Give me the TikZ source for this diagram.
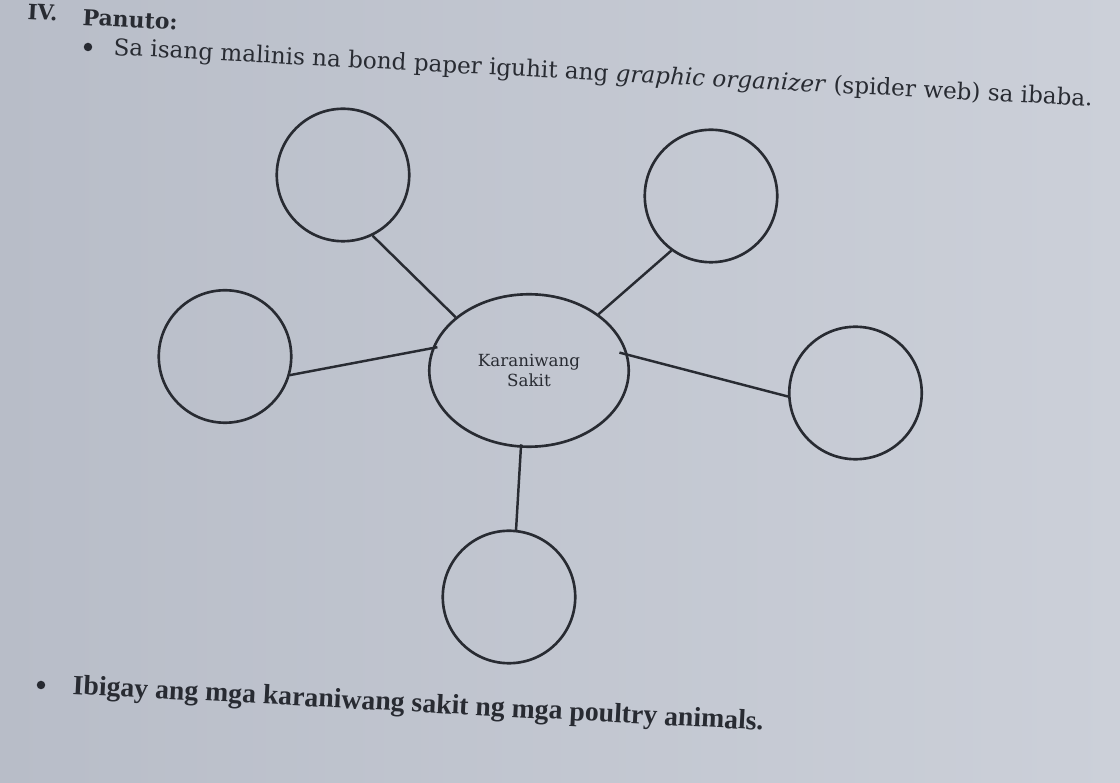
\documentclass[tikz,border=0pt]{standalone}
\usepackage{fontspec}
\setmainfont{DejaVu Serif}
\newfontfamily\ibigayfont{Liberation Serif}
\usetikzlibrary{shapes}
\definecolor{paperleft}{RGB}{184,189,200}
\definecolor{paperright}{RGB}{204,208,217}
\definecolor{ink}{RGB}{40,43,50}

\begin{document}
\begin{tikzpicture}[x=0.02cm, y=-0.02cm,
        bubble/.style={circle, draw=ink, line width=1.5pt, minimum size=2.65cm, inner sep=0pt},
        hub/.style={ellipse, draw=ink, line width=1.5pt, minimum width=3.99cm, minimum height=3.05cm, inner sep=0pt, align=center, text=ink, font=\fontsize{9.5}{11}\selectfont},
        leg/.style={draw=ink, line width=1.4pt},
        dot/.style={circle, fill=ink, inner sep=0pt, minimum size=0.17cm},
        textline/.style={anchor=base west, rotate=-3, inner sep=0pt, text=ink}]
        \shade[left color=paperleft, right color=paperright] (0,0) rectangle (1120,783);
        \node[textline, font=\bfseries\fontsize{12}{14}\selectfont] (num) at (27,19) {IV.};
        \node[textline, font=\bfseries\fontsize{12.5}{14}\selectfont] (panuto) at (82,25) {Panuto:};
        \node[dot] (b1) at (88,47) {};
        \node[textline, font=\fontsize{13.15}{15}\selectfont] (task) at (113,55) {Sa isang malinis na bond paper iguhit ang \textit{graphic organizer} (spider web) sa ibaba.};
        \node[hub] (sakit) at (529,370.5) {Karaniwang\\Sakit};
        \node[bubble] (tl) at (343,175) {};
        \node[bubble] (tr) at (711,196) {};
        \node[bubble] (lt) at (225,356.5) {};
        \node[bubble] (rt) at (855.5,393) {};
        \node[bubble] (bt) at (509,597) {};
        \draw[leg] (tl.296) -- (sakit.144);
        \draw[leg] (tr.234) -- (sakit.39);
        \draw[leg, shorten >=-3pt] (lt.344) -- (sakit.167);
        \draw[leg, shorten >=-5pt] (rt.183) -- (sakit.9);
        \draw[leg, shorten >=-2pt] (bt.84) -- (sakit.264);
        \node[dot] (b2) at (41,685) {};
        \node[textline, font=\ibigayfont\bfseries\fontsize{15.8}{18}\selectfont] (ibigay) at (72,694) {Ibigay ang mga karaniwang sakit ng mga poultry animals.};
\end{tikzpicture}
\end{document}
